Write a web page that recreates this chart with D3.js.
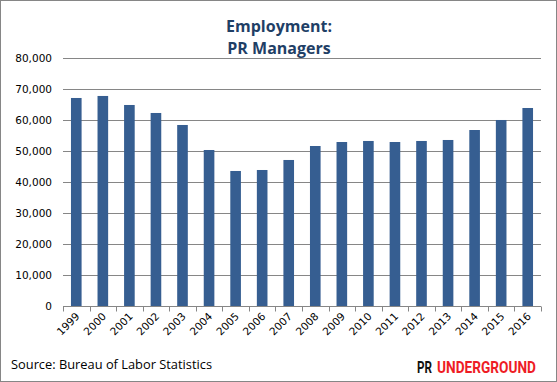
<!DOCTYPE html>
<html><head><meta charset="utf-8">
<script src="https://cdn.jsdelivr.net/npm/d3@7"></script>
<style>body{margin:0;background:#fff}svg{display:block}</style>
</head><body>
<svg id="c" width="557" height="382"></svg>
<script>
const years = ["1999","2000","2001","2002","2003","2004","2005","2006","2007","2008","2009","2010","2011","2012","2013","2014","2015","2016"];
const employment = [67200,67850,64940,62360,58490,50420,43650,43970,47200,51710,53000,53330,53000,53330,53650,56870,60100,63970];
const yTicks = [0,10000,20000,30000,40000,50000,60000,70000,80000];
const titleLines = ["Employment:","PR Managers"];
const sourceText = "Source: Bureau of Labor Statistics";

const svg = d3.select("#c");
const W = 557, H = 382;
const m = {left:63, right:16, top:58, bottom:76};
const x = d3.scaleBand().domain(years).range([m.left, W - m.right]).paddingInner(0.6).paddingOuter(0.3);
const xb = d3.scaleBand().domain(years).range([m.left, W - m.right]);
const y = d3.scaleLinear().domain([0,80000]).range([306.3, 58.3]);

svg.append("rect").attr("x",0.5).attr("y",0.5).attr("width",W-1).attr("height",H-1)
  .attr("fill","#fff").attr("stroke","#868686").attr("stroke-width",1);

// gridlines
svg.append("g").selectAll("line").data(yTicks.filter(d=>d>0)).join("line")
  .attr("x1",m.left).attr("x2",W-m.right)
  .attr("y1",d=>Math.round(y(d))+0.5).attr("y2",d=>Math.round(y(d))+0.5)
  .attr("stroke","#868686").attr("stroke-width",1);

// y labels
const fmt = d3.format(",");
svg.append("g").selectAll("text").data(yTicks).join("text")
  .attr("x",52).attr("y",d=>y(d)+4)
  .attr("text-anchor","end")
  .attr("font-family","DejaVu Sans, Verdana, sans-serif").attr("font-size",10.5).attr("fill","#000")
  .text(d=>fmt(d));

// bars
svg.append("g").selectAll("rect").data(years).join("rect")
  .attr("x",(d)=>x(d)).attr("width",x.bandwidth())
  .attr("y",(d,i)=>y(employment[i])).attr("height",(d,i)=>y(0)-y(employment[i]))
  .attr("fill","#365E91");

// x axis line and ticks
const axisY = Math.round(y(0))+0.5;
svg.append("line").attr("x1",m.left).attr("x2",W-m.right).attr("y1",axisY).attr("y2",axisY)
  .attr("stroke","#868686");
const tickPos = years.map(d=>xb(d)).concat([xb(years[years.length-1])+xb.bandwidth()]);
svg.append("g").selectAll("line").data(tickPos).join("line")
  .attr("x1",d=>Math.round(d)+0.5).attr("x2",d=>Math.round(d)+0.5)
  .attr("y1",axisY).attr("y2",axisY+5).attr("stroke","#868686");

// x labels
svg.append("g").selectAll("text").data(years).join("text")
  .attr("transform",d=>`translate(${xb(d)+xb.bandwidth()/2+4},${317}) rotate(-45)`)
  .attr("text-anchor","end")
  .attr("font-family","DejaVu Sans, Verdana, sans-serif").attr("font-size",10.5).attr("fill","#000")
  .text(d=>d);

// title
svg.append("g").selectAll("text").data(titleLines).join("text")
  .attr("x",279).attr("y",(d,i)=>32+i*22)
  .attr("text-anchor","middle")
  .attr("font-family","Open Sans, Liberation Sans, sans-serif").attr("font-weight","bold").attr("font-size",16)
  .attr("fill","#1F3F66")
  .text(d=>d);

// source
svg.append("text").attr("x",11).attr("y",369)
  .attr("font-family","Open Sans, Liberation Sans, sans-serif").attr("font-size",13).attr("fill","#000")
  .attr("textLength",201).attr("lengthAdjust","spacingAndGlyphs")
  .text(sourceText);

// logo (condensed by horizontal scaling)
function logoPart(txt, x0, targetW, color){
  const t = svg.append("text").attr("x",0).attr("y",0)
    .attr("font-family","Roboto, Liberation Sans, sans-serif").attr("font-weight","bold").attr("font-size",17)
    .attr("fill",color).text(txt);
  const w = t.node().getComputedTextLength();
  t.attr("transform",`translate(${x0},373) scale(${targetW/w},1)`);
}
logoPart("PR", 417, 15, "#111");
logoPart("UNDERGROUND", 437, 99, "#EE1C25");
</script>
</body></html>
